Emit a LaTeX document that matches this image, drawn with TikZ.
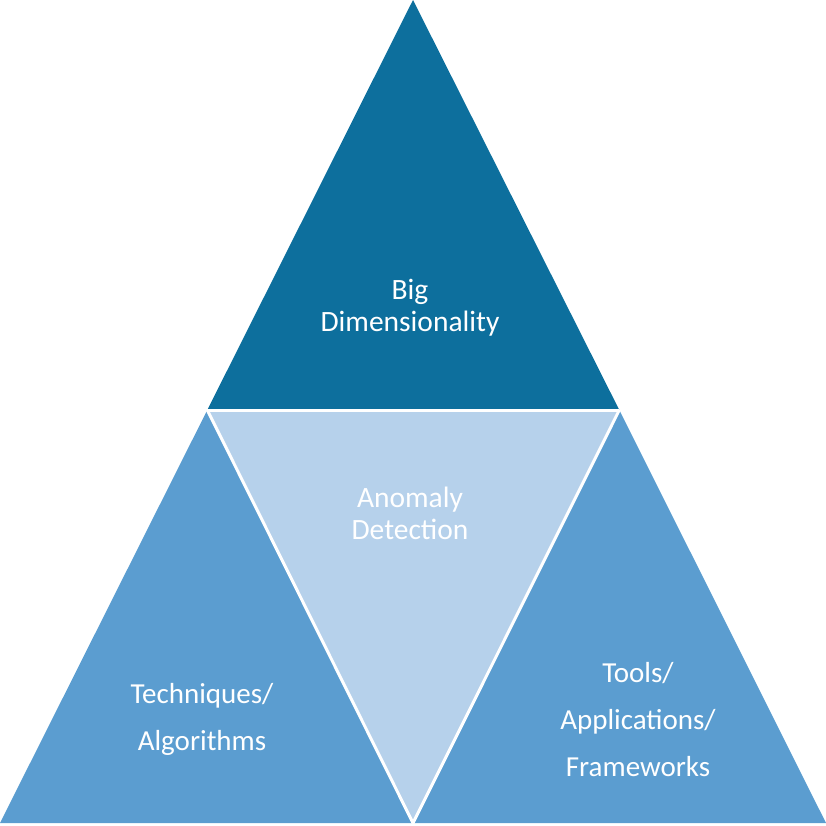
\documentclass[tikz,border=0pt]{standalone}
\usepackage{fontspec}
\setmainfont{Carlito}
\usepackage{tikz}
\usetikzlibrary{positioning}

\definecolor{topblue}{HTML}{0D6F9D}
\definecolor{sideblue}{HTML}{5B9DD0}
\definecolor{midblue}{HTML}{B6D1EB}

\tikzset{
  gapline/.style={white, line width=3pt},
  tritext/.style={text=white, align=center, font=\fontsize{29.5}{32}\selectfont},
  lowtext/.style={text=white, align=center, font=\fontsize{29}{47}\selectfont}
}

\begin{document}
\begin{tikzpicture}[x=1pt, y=-1pt]
\useasboundingbox (0,0) rectangle (826,825);

%corners
\coordinate (apex) at (413,0);
\coordinate (midL) at (207.3,410);
\coordinate (midR) at (619.3,410);
\coordinate (baseL) at (0,823);
\coordinate (baseM) at (413,823);
\coordinate (baseR) at (826,823);

%triangles
\fill[topblue] (apex) -- (midL) -- (midR) -- cycle;
\fill[sideblue] (midL) -- (baseL) -- (baseM) -- cycle;
\fill[sideblue] (midR) -- (baseM) -- (baseR) -- cycle;
\fill[midblue] (midL) -- (midR) -- (baseM) -- cycle;

%white gaps
\draw[gapline] (midL) -- (midR);
\draw[gapline] (midL) -- (baseM) -- (midR);

%labels
\node[tritext] (big) at (410,308) {Big\\Dimensionality};
\node[tritext] (anomaly) at (410,513) {Anomaly\\Detection};
\node[lowtext] (tech) at (202,719) {Techniques/\\Algorithms};
\node[lowtext] (tools) at (638,720) {Tools/\\Applications/\\Frameworks};
\end{tikzpicture}
\end{document}
